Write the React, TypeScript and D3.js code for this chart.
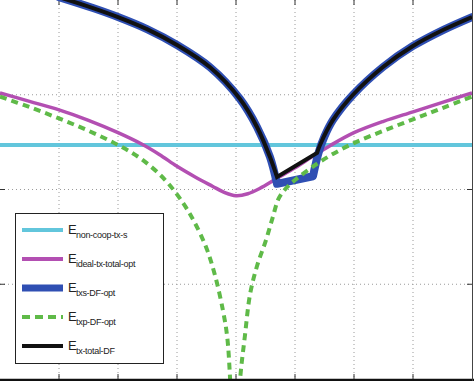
import React from "react";
import * as d3 from "d3";

// ---- data (x: position units 0..8, y: energy level units 0..4) ----
const xTicks = [1, 2, 3, 4, 5, 6, 7];
const yTicks = [1, 2, 3];

const nonCoopX = [0, 8];
const nonCoopY = [2.47, 2.47];

const idealX = [0, 0.5, 1, 1.5, 2, 2.4, 2.7, 3.0, 3.3, 3.6, 3.8, 4.0, 4.2, 4.4, 4.7, 5.0, 5.3, 5.6, 6.0, 6.5, 7.0, 7.5, 8.0];
const idealY = [3.02, 2.93, 2.84, 2.73, 2.6, 2.48, 2.37, 2.245, 2.135, 2.035, 1.97, 1.935, 1.955, 2.01, 2.12, 2.23, 2.35, 2.465, 2.6, 2.72, 2.82, 2.92, 3.02];

const txsX = [1.0, 1.576, 2.0, 2.5, 3.0, 3.56, 4.068, 4.356, 4.576, 4.695, 5.305, 5.4, 5.5, 5.644, 5.983, 6.492, 7.0, 7.508, 8.0];
const txsY = [4.03, 3.915, 3.82, 3.69, 3.525, 3.29, 2.955, 2.66, 2.343, 2.06, 2.14, 2.39, 2.56, 2.734, 3.0, 3.293, 3.515, 3.683, 3.82];
const txsCorners = [9, 10];

const txpX = [0, 0.5, 1, 1.5, 2, 2.4, 2.8, 3.1, 3.3, 3.5, 3.65, 3.78, 3.85, 3.9, 3.94, NaN,
  4.02, 4.07, 4.15, 4.24, 4.36, 4.5, 4.62, 4.72, 4.83, 5.0, 5.3, 5.6, 6.0, 6.5, 7.0, 7.5, 8.0];
const txpY = [2.98, 2.87, 2.75, 2.62, 2.47, 2.32, 2.1, 1.86, 1.65, 1.38, 1.08, 0.72, 0.45, 0.0, -0.6, NaN,
  -0.6, 0.0, 0.45, 0.9, 1.2, 1.45, 1.7, 1.9, 2.0, 2.1, 2.24, 2.36, 2.49, 2.62, 2.74, 2.86, 2.98];

const totalX = [1.0, 1.576, 2.0, 2.5, 3.0, 3.56, 4.068, 4.356, 4.576, 4.695, 5.373, 5.424, 5.644, 5.983, 6.492, 7.0, 7.508, 8.0];
const totalY = [4.03, 3.915, 3.82, 3.69, 3.525, 3.29, 2.955, 2.66, 2.343, 2.132, 2.385, 2.47, 2.734, 3.0, 3.293, 3.515, 3.683, 3.82];
const totalCorners = [9, 10];

const legendLabels = ["non-coop-tx-s", "ideal-tx-total-opt", "txs-DF-opt", "txp-DF-opt", "tx-total-DF"];

const W = 474;
const H = 381;

const x = d3.scaleLinear().domain([0, 8]).range([0, 472]);
const y = d3.scaleLinear().domain([0, 4]).range([379, 0]);

type Pt = [number, number];

function zip(xs: number[], ys: number[]): Pt[] {
  return xs.map((v, i) => [v, ys[i]] as Pt);
}

const lineGen = d3
  .line<Pt>()
  .defined((d) => !isNaN(d[0]) && !isNaN(d[1]))
  .x((d) => x(d[0]))
  .y((d) => y(d[1]))
  .curve(d3.curveCatmullRom.alpha(0.5));

function piecewise(xs: number[], ys: number[], corners: number[]): string {
  const pts = zip(xs, ys);
  const cuts = [0, ...corners, pts.length - 1];
  let d = "";
  for (let i = 0; i < cuts.length - 1; i++) {
    const seg = lineGen(pts.slice(cuts[i], cuts[i + 1] + 1)) || "";
    d += i === 0 ? seg : seg.replace(/^M/, "L");
  }
  return d;
}

const C = {
  cyan: "#62c6dc",
  magenta: "#b34fb2",
  blue: "#2f4fb3",
  green: "#5fba48",
  black: "#111111",
};

const legendStyles = [
  { color: C.cyan, width: 4, dash: undefined as string | undefined },
  { color: C.magenta, width: 4, dash: undefined },
  { color: C.blue, width: 7, dash: undefined },
  { color: C.green, width: 4, dash: "8,5" },
  { color: C.black, width: 4, dash: undefined },
];

export default function App() {
  return (
    <svg
      width={W}
      height={H}
      style={{ position: "absolute", left: 0, top: 0, background: "#fff" }}
      fontFamily="'Liberation Sans', Arial, sans-serif"
    >
      <defs>
        <clipPath id="plot">
          <rect x={0} y={0} width={472} height={379} />
        </clipPath>
      </defs>
      <rect x={0} y={0} width={W} height={H} fill="#fff" />
      {/* grid */}
      {xTicks.map((t) => (
        <line key={"gx" + t} x1={x(t)} x2={x(t)} y1={0} y2={379} stroke="#9a9a9a" strokeWidth={1} strokeDasharray="1,3" />
      ))}
      {yTicks.map((t) => (
        <line key={"gy" + t} x1={0} x2={472} y1={y(t)} y2={y(t)} stroke="#9a9a9a" strokeWidth={1} strokeDasharray="1,3" />
      ))}
      {/* ticks */}
      {xTicks.map((t) => (
        <g key={"tx" + t}>
          <line x1={x(t)} x2={x(t)} y1={0} y2={5} stroke="#333" strokeWidth={1} />
          <line x1={x(t)} x2={x(t)} y1={374} y2={379} stroke="#333" strokeWidth={1} />
        </g>
      ))}
      {yTicks.map((t) => (
        <g key={"ty" + t}>
          <line x1={0} x2={5} y1={y(t)} y2={y(t)} stroke="#333" strokeWidth={1} />
          <line x1={467} x2={472} y1={y(t)} y2={y(t)} stroke="#333" strokeWidth={1} />
        </g>
      ))}
      <g clipPath="url(#plot)">
        <path d={lineGen(zip(nonCoopX, nonCoopY)) || ""} fill="none" stroke={C.cyan} strokeWidth={4} />
        <path d={lineGen(zip(idealX, idealY)) || ""} fill="none" stroke={C.magenta} strokeWidth={3.5} />
        <path d={piecewise(txsX, txsY, txsCorners)} fill="none" stroke={C.blue} strokeWidth={8} strokeLinejoin="round" strokeLinecap="round" />
        <path d={lineGen(zip(txpX, txpY)) || ""} fill="none" stroke={C.green} strokeWidth={4} strokeDasharray="7,5" />
        <path d={piecewise(totalX, totalY, totalCorners)} fill="none" stroke={C.black} strokeWidth={4} strokeLinejoin="miter" />
      </g>
      {/* axes */}
      <line x1={0} x2={474} y1={379.8} y2={379.8} stroke="#111" strokeWidth={2.2} />
      <line x1={472.5} x2={472.5} y1={0} y2={381} stroke="#444" strokeWidth={1} />
      {/* legend */}
      <rect x={15.5} y={213.5} width={148} height={150} fill="#fff" stroke="#222" strokeWidth={1} />
      {legendLabels.map((lab, i) => {
        const cy = 230 + i * 29;
        const s = legendStyles[i];
        return (
          <g key={lab}>
            <line x1={22} x2={63} y1={cy} y2={cy} stroke={s.color} strokeWidth={s.width} strokeDasharray={s.dash} />
            <text x={68} y={cy + 4} fontSize={13} fill="#222">
              E
              <tspan x={76} y={cy + 8} fontSize={9} letterSpacing={-0.3}>
                {lab}
              </tspan>
            </text>
          </g>
        );
      })}
    </svg>
  );
}
